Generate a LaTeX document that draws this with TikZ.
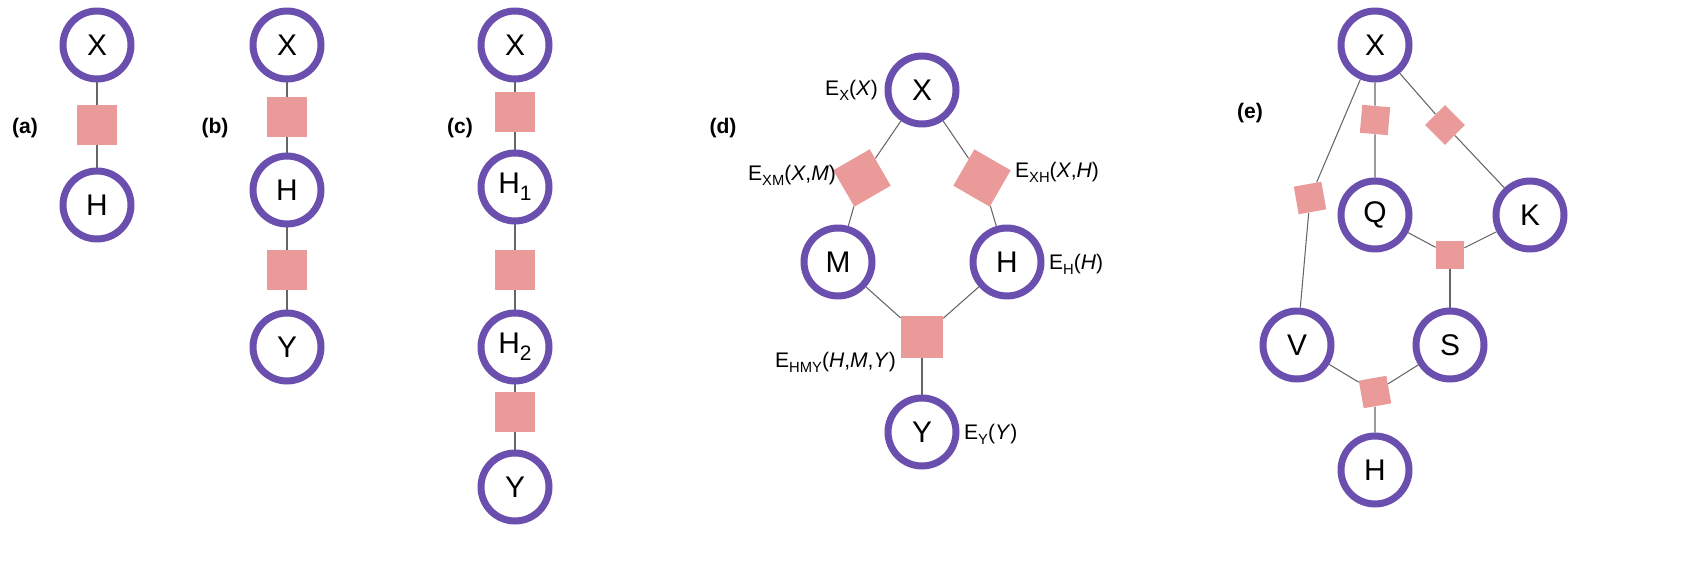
\documentclass[tikz,border=0pt]{standalone}
\usepackage{fontspec}
\setmainfont{Liberation Sans}
\usetikzlibrary{backgrounds}
\definecolor{vpur}{HTML}{6A4FAE}
\definecolor{fpink}{HTML}{E99A99}
\newcommand{\sbs}[1]{\raisebox{-0.45ex}{\fontsize{0.7em}{0.7em}\selectfont #1}}
\tikzset{
 var/.style={circle,draw=vpur,line width=0.14cm,fill=white,minimum size=1.36cm,inner sep=0pt,font=\fontsize{17}{17}\selectfont},
 fac/.style={rectangle,fill=fpink,minimum size=0.8cm,inner sep=0pt},
 sfac/.style={rectangle,fill=fpink,minimum size=0.56cm,inner sep=0pt},
 edge/.style={draw=gray!80!black,line width=0.6pt},
 lab/.style={font=\bfseries\fontsize{12}{12}\selectfont},
 elab/.style={font=\fontsize{12}{12}\selectfont,inner sep=1pt}
}
\begin{document}
\begin{tikzpicture}[x=0.02cm,y=-0.02cm]
\useasboundingbox (0,0) rectangle (1681,561);
% (a)
\node[lab] at (25,128) {(a)};
\node[var] (aX) at (97,45) {X};
\node[fac] (af) at (97,125) {};
\node[var] (aH) at (97,205) {H};
% (b)
\node[lab] at (215,128) {(b)};
\node[var] (bX) at (287,45) {X};
\node[fac] (bf1) at (287,117) {};
\node[var] (bH) at (287,190) {H};
\node[fac] (bf2) at (287,270) {};
\node[var] (bY) at (287,347) {Y};
% (c)
\node[lab] at (460,128) {(c)};
\node[var] (cX) at (515,45) {X};
\node[fac] (cf1) at (515,112) {};
\node[var] (cH1) at (515,187) {H\sbs{1}};
\node[fac] (cf2) at (515,270) {};
\node[var] (cH2) at (515,347) {H\sbs{2}};
\node[fac] (cf3) at (515,412) {};
\node[var] (cY) at (515,487) {Y};
% (d)
\node[lab] at (723,128) {(d)};
\node[var] (dX) at (922,90) {X};
\node[fac,minimum size=0.84cm,rotate=30] (dxm) at (862,178) {};
\node[fac,minimum size=0.84cm,rotate=-30] (dxh) at (982,178) {};
\node[var] (dM) at (838,262) {M};
\node[var] (dH) at (1007,262) {H};
\node[fac,minimum size=0.84cm] (dhmy) at (922,337) {};
\node[var] (dY) at (922,432) {Y};
\node[elab,anchor=east] at (880,90) {E\sbs{X}(\textit{X})};
\node[elab,anchor=east] at (838,175) {E\sbs{XM}(\textit{X},\textit{M})};
\node[elab,anchor=west] at (1013,172) {E\sbs{XH}(\textit{X},\textit{H})};
\node[elab,anchor=west] at (1047,264) {E\sbs{H}(\textit{H})};
\node[elab,anchor=east] at (898,362) {E\sbs{HMY}(\textit{H},\textit{M},\textit{Y})};
\node[elab,anchor=west] at (962,434) {E\sbs{Y}(\textit{Y})};
% (e)
\node[lab] at (1250,113) {(e)};
\node[var] (eX) at (1375,45) {X};
\node[var] (eQ) at (1375,215) {Q};
\node[var] (eK) at (1530,215) {K};
\node[var] (eV) at (1297,345) {V};
\node[var] (eS) at (1450,345) {S};
\node[var] (eH) at (1375,470) {H};
\node[sfac,rotate=-5] (exq) at (1375,120) {};
\node[sfac,rotate=45] (exk) at (1445,125) {};
\node[sfac,rotate=10] (exv) at (1310,198) {};
\node[sfac] (eqks) at (1450,255) {};
\node[sfac,rotate=10] (evsh) at (1375,392) {};
\begin{scope}[on background layer]
\draw[edge] (aX)--(af)--(aH);
\draw[edge] (bX)--(bf1)--(bH)--(bf2)--(bY);
\draw[edge] (cX)--(cf1)--(cH1)--(cf2)--(cH2)--(cf3)--(cY);
\draw[edge] (dX)--(dxm)--(dM);
\draw[edge] (dX)--(dxh)--(dH);
\draw[edge] (dM)--(dhmy)--(dH);
\draw[edge] (dhmy)--(dY);
\draw[edge] (eX)--(exq)--(eQ);
\draw[edge] (eX)--(exk)--(eK);
\draw[edge] (eX)--(exv)--(eV);
\draw[edge] (eQ)--(eqks)--(eK);
\draw[edge] (eqks)--(eS);
\draw[edge] (eV)--(evsh)--(eS);
\draw[edge] (evsh)--(eH);
\end{scope}
\end{tikzpicture}
\end{document}
